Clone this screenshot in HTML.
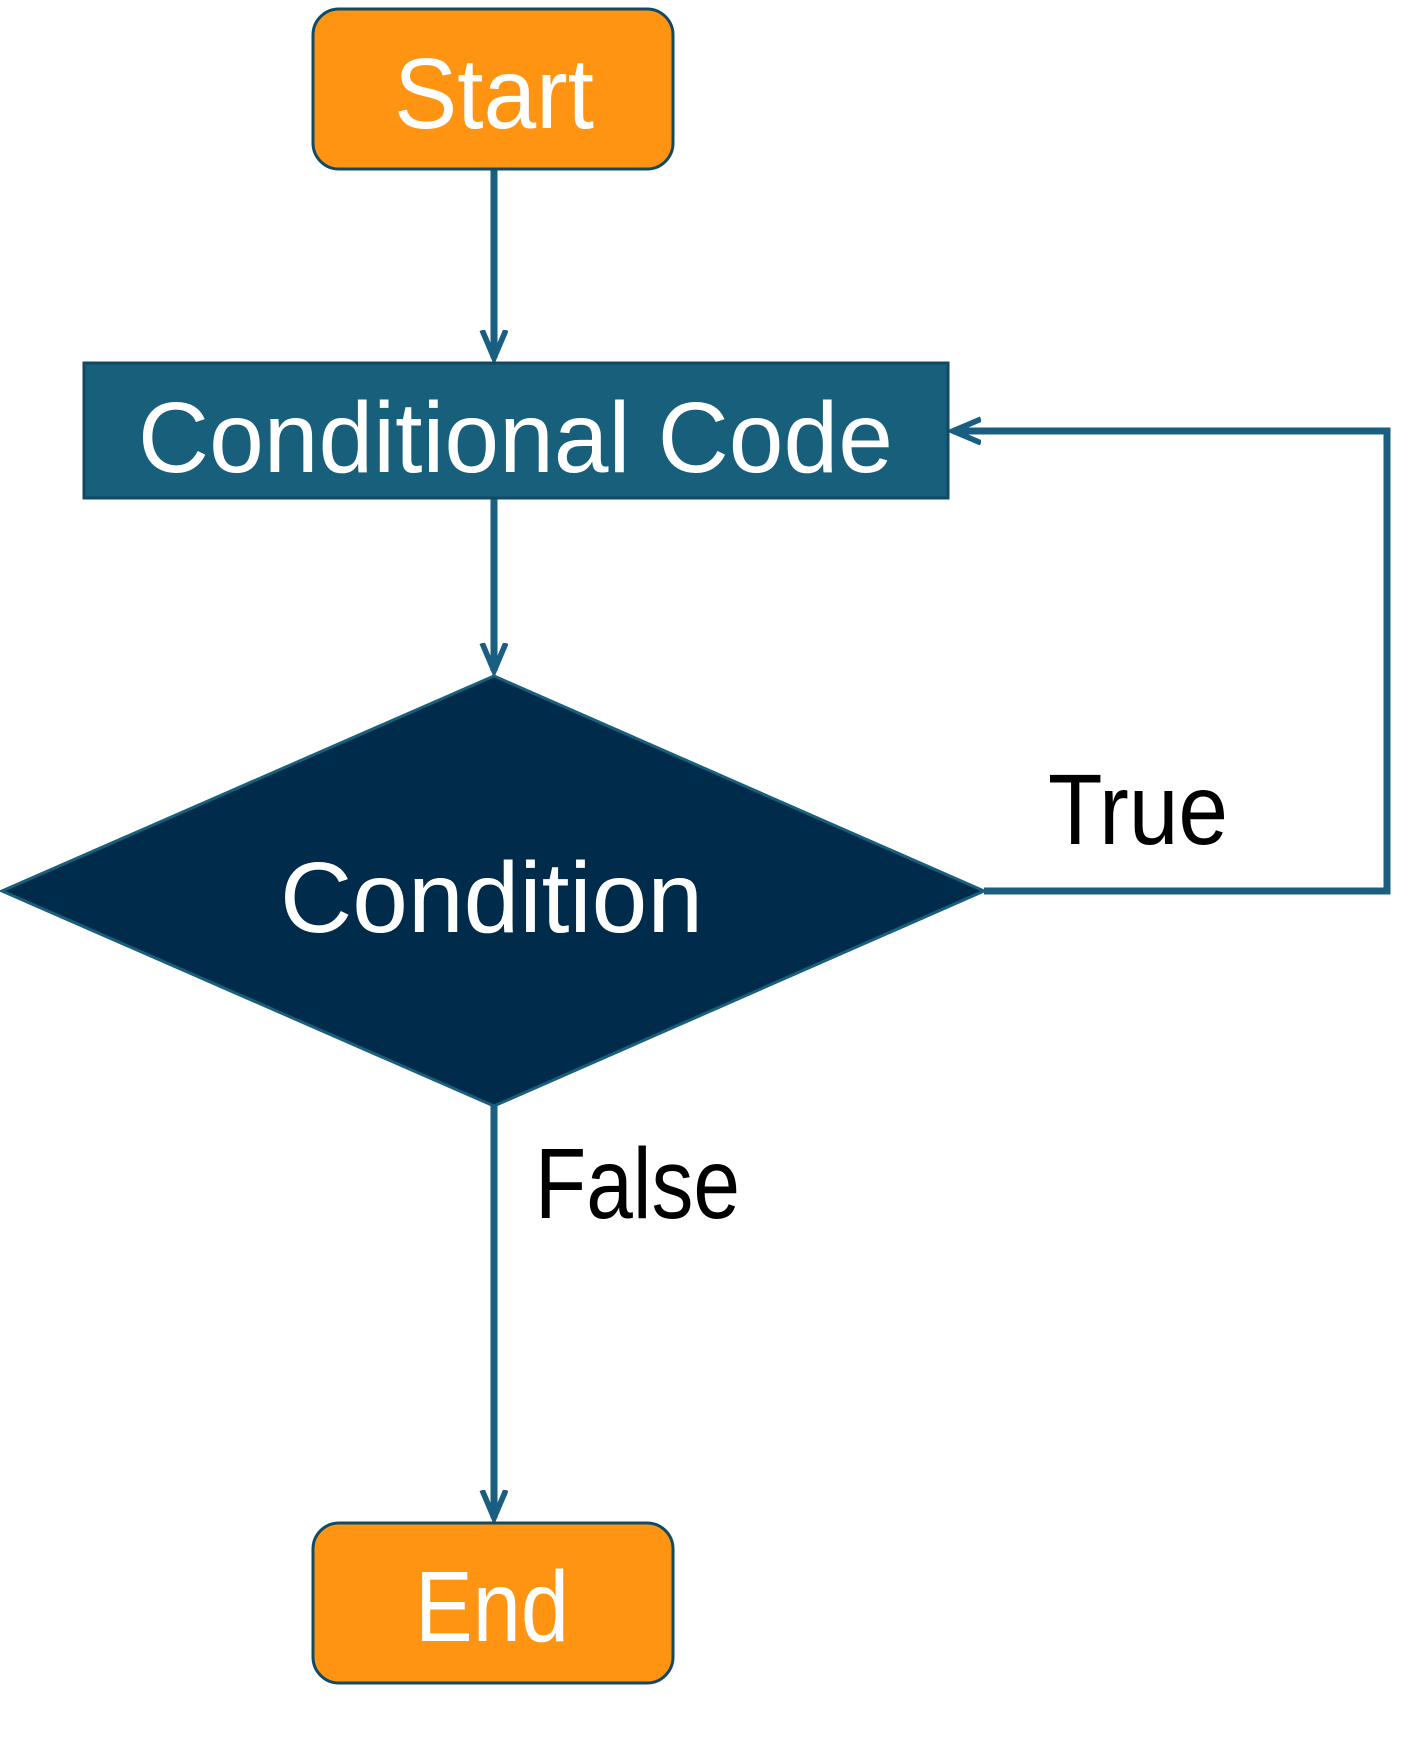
<!DOCTYPE html>
<html><head><style>html,body{margin:0;padding:0;background:#fff}</style></head><body>
<svg width="1407" height="1741" viewBox="0 0 1407 1741" xmlns="http://www.w3.org/2000/svg" font-family="'Liberation Sans', sans-serif">
<defs><marker id="a" markerWidth="5" markerHeight="5" refX="4" refY="2" orient="auto" markerUnits="strokeWidth"><path d="M0,0.3 L4,2 L0,3.7" fill="none" stroke="#1a5e82" stroke-width="0.8"/></marker></defs>
<g stroke="#1a5e82" stroke-width="7" fill="none">
<line x1="494" y1="169" x2="494" y2="358" marker-end="url(#a)"/>
<line x1="494" y1="498" x2="494" y2="671" marker-end="url(#a)"/>
<line x1="494" y1="1106" x2="494" y2="1518" marker-end="url(#a)"/>
<polyline points="984,891 1387,891 1387,431 953,431" marker-end="url(#a)"/>
</g>
<rect x="313" y="9" width="360" height="160" rx="26" fill="#ff9412" stroke="#124a66" stroke-width="3"/>
<rect x="84" y="363" width="864" height="135" fill="#185f7c" stroke="#124a66" stroke-width="3"/>
<polygon points="494,676 984,891 494,1106 2,891" fill="#012b4a" stroke="#185f7c" stroke-width="3"/>
<rect x="313" y="1523" width="360" height="160" rx="26" fill="#ff9412" stroke="#124a66" stroke-width="3"/>
<g fill="#fff" font-size="100">
<text x="394" y="128" textLength="200" lengthAdjust="spacingAndGlyphs">Start</text>
<text x="138" y="472" textLength="755" lengthAdjust="spacingAndGlyphs">Conditional Code</text>
<text x="280" y="932" textLength="423" lengthAdjust="spacingAndGlyphs">Condition</text>
<text x="415" y="1641" textLength="154" lengthAdjust="spacingAndGlyphs">End</text>
</g>
<g fill="#000" font-size="100">
<text x="1048" y="844" textLength="180" lengthAdjust="spacingAndGlyphs">True</text>
<text x="535" y="1218" textLength="205" lengthAdjust="spacingAndGlyphs">False</text>
</g>
</svg>
</body></html>
